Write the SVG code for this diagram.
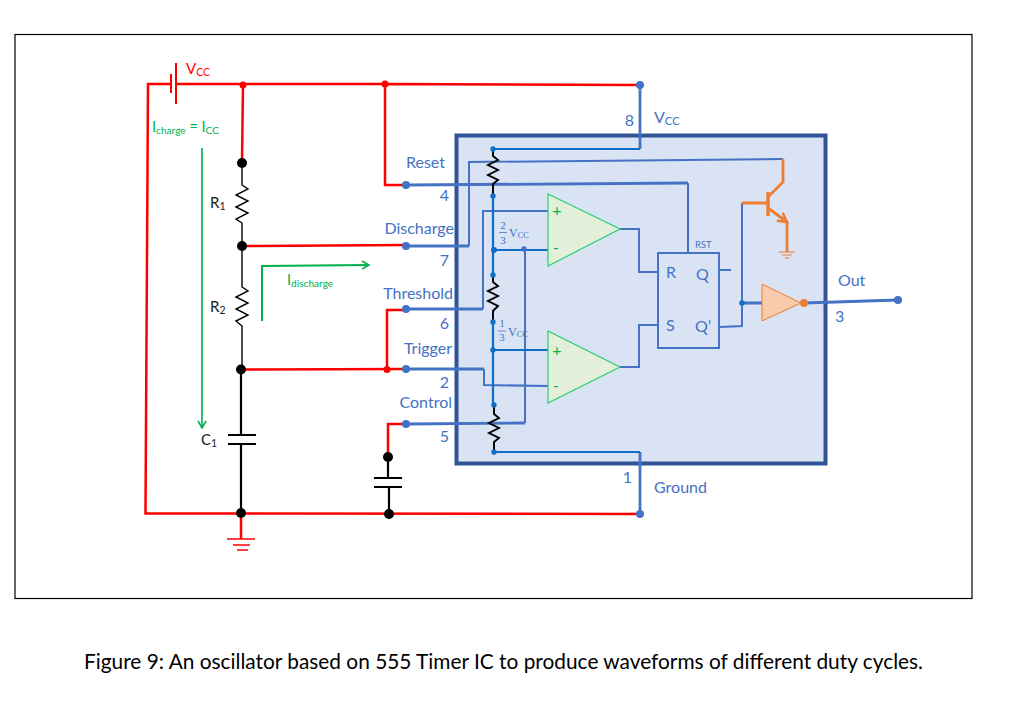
<svg xmlns="http://www.w3.org/2000/svg" width="1024" height="722" viewBox="0 0 1024 722">
<style>
text{font-family:Lato,"Liberation Sans",sans-serif}
.w{fill:none;stroke-linejoin:miter}
.red{stroke:#FF0000;stroke-width:2.5}
.blk{stroke:#000;stroke-width:2.2}
.thin{stroke:#000;stroke-width:1.4}
.lad{stroke:#000;stroke-width:1.9}
.blu{stroke:#4472C4;stroke-width:2}
.bl3{stroke:#4472C4;stroke-width:2.8}
.dbl{stroke:#0F6FC6;stroke-width:2.2}
.org{stroke:#ED7D31;stroke-width:2.8}
.grn{stroke:#00B050;stroke-width:1.6}
.lb{fill:#4472C4;font-size:16px}
.e{text-anchor:end}
.k{fill:#1a1a1a;font-size:15px}
.g{fill:#00B050;font-size:14.500px}
.s{font-size:.7em}
.rd{fill:#FF0000}.bd{fill:#4472C4}.kd{fill:#000}.dd{fill:#0F6FC6}.od{fill:#ED7D31}
.opamp{fill:#E2F0D9;stroke:#2ECC71;stroke-width:1.2}
.sign{fill:#00B050;font-size:16px;text-anchor:middle}
.frac{fill:#4472C4;font-size:11px;text-anchor:middle;font-family:"Liberation Serif",serif}
.vc{fill:#4472C4;font-size:12px;font-family:"Liberation Serif",serif}
</style>
<defs>
<marker id="ga" markerWidth="12" markerHeight="12" refX="9" refY="5" orient="auto" markerUnits="userSpaceOnUse"><path d="M2 1L9 5L2 9" fill="none" stroke="#00B050" stroke-width="1.6"/></marker>
<marker id="oa" markerWidth="14" markerHeight="14" refX="11" refY="6" orient="auto" markerUnits="userSpaceOnUse"><path d="M2 1L11 6L2 11" fill="none" stroke="#ED7D31" stroke-width="2.4"/></marker>
</defs>
<rect width="1024" height="722" fill="#fff"/>
<rect id="frame" x="15" y="34.500" width="957" height="564" fill="none" stroke="#000" stroke-width="1.2"/>
<g id="ic"><rect x="456.500" y="135.500" width="369" height="328" fill="#D9E3F3" stroke="#2F5597" stroke-width="4"/></g>
<g id="connectors">
<path class="w red" d="M171 84H148L145.500 513.500H241L640 514"/>
<path class="w red" d="M176 84H243L385 84L640 85M243 85L242 163M385 84V185H406M242 246L406 245M241 369.500L406 369M387 369.500V310H406M241 513V539M388 457V424H406"/>
<path class="w thin" d="M242 163V185L248 189L236 195L248 201L236 207L248 213L236 219L242 223V246V287L248 291L236 297L248 303L236 309L248 315L236 321L242 326V369"/>
<path class="w blk" d="M241 369V435M241 444V513M388 457V478M389 487V514"/>
<path class="w bl3" d="M640 85V149M640 452V514M406 185L688 183M406 246H469M406 309H483M406 369H484M406 424L525 423"/>
<path class="w blu" d="M469 246V162L783 159M483 309V211L548 211M484 369V385L548 386M525 423V249M688 183V253M620 229H639V272H658M620 367H639V325H658M719 270H731M720 327L742 326V203"/>
<path class="w dbl" d="M493 149H640M493 196V275M493 322V405M493 452H640M494 250H548M493 350H548"/>
<path class="w lad" d="M493 149V156L498 160L488 165L498 170L488 175L498 180L493 184V196M493 275V282L498 286L488 291L498 296L488 301L498 306L493 311V322M494 405V414L499 418L489 423L499 428L489 433L499 438L494 442V452"/>
<path class="w bl3" d="M742 303H762M804 303L898 300"/>
<path class="w org" d="M783 159V182L768 197M742 203H768M787 222V252"/>
<path class="w org" d="M768 208L787 222" marker-end="url(#oa)"/>
<path class="w" stroke="#ED7D31" stroke-width="3.500" d="M768 192V216"/>
<path class="w" stroke="#ED7D31" stroke-width="1.200" d="M779 252H795M782 255H792M785 258H789"/>
<path class="w" stroke="#FF0000" stroke-width="2" d="M171 74V93M176 63V104"/>
<path class="w" stroke="#000" stroke-width="2" d="M228 435H256M228 444H256M374 478H402M374 487H402"/>
<path class="w" stroke="#FF0000" stroke-width="1.600" d="M227 539H255M233 545H250M237 550H248"/>
<path class="w grn" d="M202 148V428" marker-end="url(#ga)"/>
<path class="w" stroke="#00B050" stroke-width="2" d="M262 321V266L369 265" marker-end="url(#ga)"/>
</g>
<g id="junctions">
<circle class="rd" cx="243" cy="85" r="3.500"/><circle class="rd" cx="385" cy="84" r="3.500"/><circle class="rd" cx="387" cy="369.500" r="3.500"/>
<circle class="kd" cx="242" cy="163" r="5"/><circle class="kd" cx="242" cy="246" r="5"/><circle class="kd" cx="241" cy="369.500" r="5"/><circle class="kd" cx="241" cy="513" r="5"/><circle class="kd" cx="388" cy="457" r="5"/><circle class="kd" cx="389" cy="514" r="5"/>
<circle class="bd" cx="640" cy="85" r="4"/><circle class="bd" cx="640" cy="514" r="4"/><circle class="bd" cx="898" cy="300" r="4"/>
<circle class="bd" cx="406" cy="185" r="4"/><circle class="bd" cx="406" cy="246" r="4"/><circle class="bd" cx="406" cy="309" r="4"/><circle class="bd" cx="406" cy="369" r="4"/><circle class="bd" cx="406" cy="424" r="4"/>
<circle class="dd" cx="493" cy="149" r="2.700"/><circle class="dd" cx="493" cy="196" r="2.700"/><circle class="dd" cx="494" cy="250" r="3"/><circle class="dd" cx="493" cy="275" r="2.700"/><circle class="dd" cx="493" cy="322" r="2.700"/><circle class="dd" cx="493" cy="350" r="2.700"/><circle class="dd" cx="494" cy="405" r="2.700"/><circle class="dd" cx="494" cy="452" r="2.700"/>
<circle class="bd" cx="524" cy="249" r="2.700"/><circle class="dd" cx="742" cy="303" r="2.800"/>
</g>
<g id="comparator-upper"><path class="opamp" d="M548 194V266L620 229Z"/><text class="sign" x="557" y="216">+</text><text class="sign" x="556" y="253">-</text></g>
<g id="comparator-lower"><path class="opamp" d="M548 331V403L620 367Z"/><text class="sign" x="557" y="356">+</text><text class="sign" x="556" y="391">-</text></g>
<g id="flipflop"><rect x="658" y="253" width="61" height="95" fill="none" stroke="#4472C4" stroke-width="2"/>
<text class="lb" x="666" y="278">R</text><text class="lb" x="696" y="280">Q</text><text class="lb" x="666" y="331">S</text><text class="lb" x="695" y="332">Q’</text><text x="695" y="248" fill="#4472C4" font-size="9.500">RST</text></g>
<g id="inverter"><path d="M762 284V321L801 303Z" fill="#F8CBAD" stroke="#ED7D31" stroke-width="1"/><circle class="od" cx="804" cy="303" r="4"/></g>
<g id="ladder-labels">
<text class="frac" x="503" y="229">2</text><text class="frac" x="503" y="244">3</text><path d="M499 232.500H507" stroke="#4472C4" stroke-width=".8"/><text class="vc" x="509" y="237">V<tspan class="s" dy="1">CC</tspan></text>
<text class="frac" x="502" y="327">1</text><text class="frac" x="502" y="341">3</text><path d="M498 331H506" stroke="#4472C4" stroke-width=".8"/><text class="vc" x="508" y="336">V<tspan class="s" dy="1">CC</tspan></text>
</g>
<g id="labels">
<text class="lb e" x="445" y="168">Reset</text><text class="lb e" x="449" y="201">4</text>
<text class="lb e" x="454" y="234">Discharge</text><text class="lb e" x="449" y="266">7</text>
<text class="lb e" x="453" y="299">Threshold</text><text class="lb e" x="449" y="329">6</text>
<text class="lb e" x="452" y="354">Trigger</text><text class="lb e" x="449" y="388">2</text>
<text class="lb e" x="452" y="408">Control</text><text class="lb e" x="449" y="442">5</text>
<text class="lb e" x="634" y="126">8</text><text class="lb" x="654" y="123">V<tspan class="s" dy="2">CC</tspan></text>
<text class="lb e" x="632" y="483">1</text><text class="lb" x="654" y="493">Ground</text>
<text class="lb" x="838" y="286">Out</text><text class="lb" x="835" y="322">3</text>
<text fill="#FF0000" font-size="15" x="186" y="74">V<tspan class="s" dy="2">CC</tspan></text>
<text class="k" x="210" y="208">R<tspan class="s" dy="2">1</tspan></text>
<text class="k" x="210" y="312">R<tspan class="s" dy="2">2</tspan></text>
<text class="k" x="201" y="445">C<tspan class="s" dy="2">1</tspan></text>
<text class="g" x="152" y="132">I<tspan class="s" dy="2">charge</tspan><tspan dy="-2"> = I</tspan><tspan class="s" dy="2">CC</tspan></text>
<text class="g" x="287" y="285">I<tspan class="s" dy="2">discharge</tspan></text>
<text x="84" y="669" font-size="20.850" fill="#000">Figure 9: An oscillator based on 555 Timer IC to produce waveforms of different duty cycles.</text>
</g>
</svg>
